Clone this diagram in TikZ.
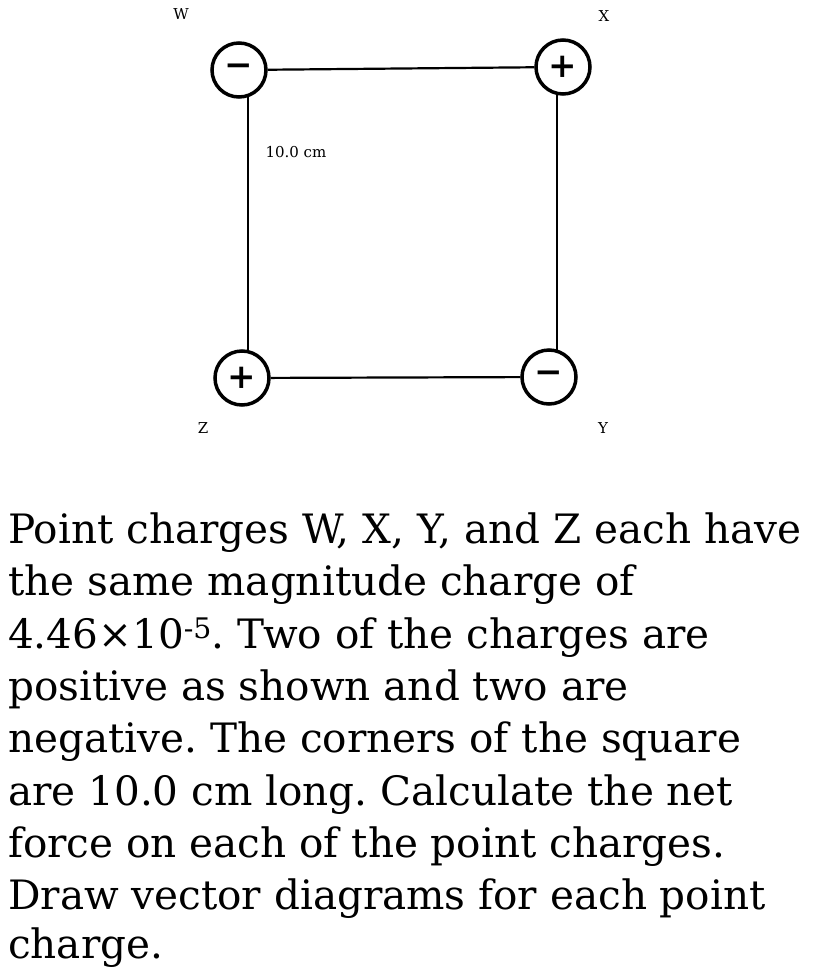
\documentclass[tikz,border=0pt]{standalone}
\usepackage{fontspec}
\setmainfont{DejaVu Serif}
\frenchspacing
\begin{document}
\begin{tikzpicture}[x=1pt,y=-1pt,
  chg/.style={circle,draw,line width=3.5pt,minimum size=54pt,inner sep=0pt,font=\fontsize{34}{34}\selectfont\bfseries},
  lbl/.style={font=\fontsize{15}{15}\selectfont},
  txt/.style={anchor=base west,inner sep=0pt,font=\fontsize{40.5}{40}\selectfont}]
\useasboundingbox (0,0) rectangle (812,975);
\node[chg] (W) at (239,70) {−};
\node[chg] (X) at (563,67) {+};
\node[chg] (Z) at (242,378) {+};
\node[chg] (Y) at (549,377) {−};
\draw[line width=2.2pt] (W) -- (X);
\draw[line width=2.2pt] (Z) -- (Y);
\draw[line width=2.2pt] (248,97) -- (248,351);
\draw[line width=2.2pt] (557,94) -- (557,350);
\node[lbl] (lw) at (181,14) {W};
\node[lbl] (lx) at (604,16) {X};
\node[lbl] (lz) at (203,428) {Z};
\node[lbl] (ly) at (603,428) {Y};
\node[lbl,anchor=west] (d) at (262,152) {10.0 cm};
\node[txt] (t1) at (8,543) {Point charges W, X, Y, and Z each have};
\node[txt] (t2) at (8,595) {the same magnitude charge of};
\node[txt] (t3) at (8,648) {4.46×10\textsuperscript{-5}. Two of the charges are};
\node[txt] (t4) at (8,700) {positive as shown and two are};
\node[txt] (t5) at (8,752) {negative. The corners of the square};
\node[txt] (t6) at (8,805) {are 10.0 cm long. Calculate the net};
\node[txt] (t7) at (8,857) {force on each of the point charges.};
\node[txt] (t8) at (8,909) {Draw vector diagrams for each point};
\node[txt] (t9) at (8,958) {charge.};
\end{tikzpicture}
\end{document}
